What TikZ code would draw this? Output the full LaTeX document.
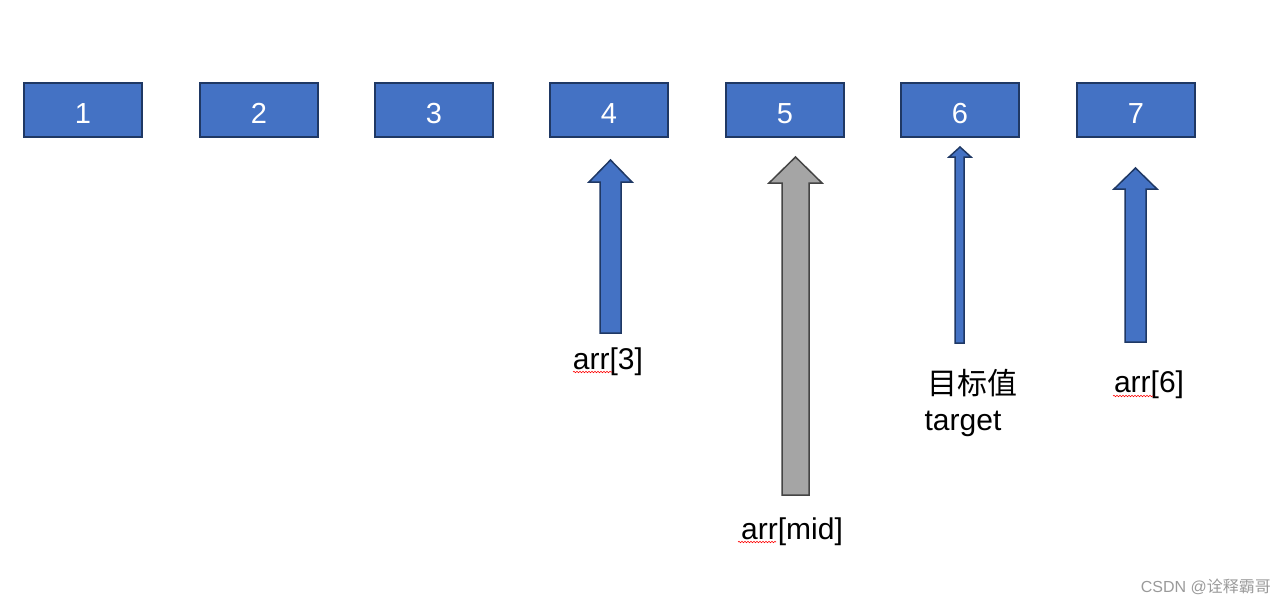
\documentclass[tikz,border=0pt]{standalone}
\usepackage{fontspec}
\setmainfont{Liberation Sans}
\newfontfamily\cjk{Noto Sans CJK SC}
\usetikzlibrary{decorations.pathmorphing}
\definecolor{boxblue}{HTML}{4472C4}
\definecolor{boxedge}{HTML}{1F3864}
\definecolor{arrgrey}{HTML}{A5A5A5}
\definecolor{arrgreyedge}{HTML}{444444}
\definecolor{wm}{HTML}{9A9A9A}
\tikzset{
  cell/.style={draw=boxedge, fill=boxblue, line width=2pt, minimum width=118pt, minimum height=54pt, inner sep=0pt, text height=26pt, text depth=0pt, text=white, font=\fontsize{29}{30}\selectfont},
  bluearrow/.style={draw=boxedge, fill=boxblue, line width=1.5pt, line join=miter},
  greyarrow/.style={draw=arrgreyedge, fill=arrgrey, line width=1.5pt, line join=miter},
  lbl/.style={inner sep=0pt, font=\fontsize{30}{31}\selectfont},
  squiggle/.style={draw=red, line width=0.6pt, decorate, decoration={snake, amplitude=0.7pt, segment length=3pt}},
}
\begin{document}
\begin{tikzpicture}[x=1pt,y=-1pt]
\useasboundingbox (0,0) rectangle (1285,606);
% cells
\node[cell] (b1) at (83,110) {1};
\node[cell] (b2) at (259,110) {2};
\node[cell] (b3) at (434,110) {3};
\node[cell] (b4) at (609,110) {4};
\node[cell] (b5) at (785,110) {5};
\node[cell] (b6) at (960,110) {6};
\node[cell] (b7) at (1136,110) {7};
% arrows
\draw[bluearrow] (600,333) -- (600,182) -- (589,182) -- (610.5,160) -- (632,182) -- (621,182) -- (621,333) -- cycle;
\draw[greyarrow] (782,495) -- (782,183) -- (769,183) -- (795.5,157) -- (822,183) -- (809,183) -- (809,495) -- cycle;
\draw[bluearrow] (955,343) -- (955,157) -- (949,157) -- (960,147) -- (971,157) -- (964,157) -- (964,343) -- cycle;
\draw[bluearrow] (1125,342) -- (1125,189) -- (1114,189) -- (1135.5,168) -- (1157,189) -- (1146,189) -- (1146,342) -- cycle;
% labels
\node[lbl] (l3) at (608,362) {arr[3]};
\node[lbl] (lmid) at (792,532) {arr[mid]};
\node[lbl] (ltarget) at (972,383) {\cjk 目标值};
\node[lbl] (ltarget2) at (963,424) {target};
\node[lbl] (l6) at (1149,385) {arr[6]};
\draw[squiggle] (573,372) -- (612,372);
\draw[squiggle] (738,542) -- (776,542);
\draw[squiggle] (1113,396) -- (1153,396);
% watermark
\node[inner sep=0pt, text=wm, font=\fontsize{16}{18}\selectfont, anchor=east] (wmk) at (1271,587) {CSDN @{\cjk 诠释霸哥}};
\end{tikzpicture}
\end{document}
